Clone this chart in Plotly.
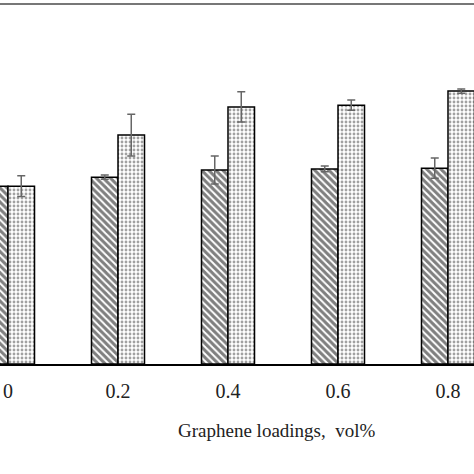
import plotly.graph_objects as go

loadings = [0, 0.2, 0.4, 0.6, 0.8]
tick_labels = ["0", "0.2", "0.4", "0.6", "0.8"]

# two series, arbitrary units (y axis not shown in the picture)
hatched = [49.4, 51.9, 53.9, 54.2, 54.4]
hatched_err = [2.0, 0.6, 3.9, 0.8, 2.8]
dotted = [49.4, 63.6, 71.4, 71.9, 75.8]
dotted_err = [2.9, 5.8, 4.2, 1.4, 0.6]

fig = go.Figure()

fig.add_trace(go.Bar(x=loadings, y=hatched,
                     error_y=dict(type="data", array=hatched_err, color="#666666",
                                  thickness=1.5, width=4),
                     marker=dict(color="white",
                                 line=dict(color="black", width=1.5),
                                 pattern=dict(shape="\\", fgcolor="black",
                                              bgcolor="white", size=5, solidity=0.6)),
                     showlegend=False))

fig.add_trace(go.Bar(x=loadings, y=dotted,
                     error_y=dict(type="data", array=dotted_err, color="#666666",
                                  thickness=1.5, width=4),
                     marker=dict(color="white",
                                 line=dict(color="black", width=1.5),
                                 pattern=dict(shape=".", fgcolor="#444444",
                                              bgcolor="white", size=4, solidity=0.4)),
                     showlegend=False))

# 0.2 units = 110 px, first group centred at 8 px
x0 = -8 / 550
x1 = x0 + 474 / 550

fig.update_layout(width=474, height=474,
                  margin=dict(l=0, r=0, t=4, b=110),
                  paper_bgcolor="white", plot_bgcolor="white",
                  barmode="group", bargap=0.518, bargroupgap=0,
                  font=dict(family="Liberation Serif", color="black"))

fig.update_xaxes(range=[x0, x1], tickvals=loadings, ticktext=tick_labels,
                 showline=True, linecolor="black", linewidth=1.5,
                 showgrid=False, zeroline=False, ticks="",
                 ticklabelstandoff=8,
                 tickfont=dict(size=20, family="Liberation Serif", color="#222222"))
fig.update_yaxes(range=[0, 100], visible=False)

# top frame line
fig.add_shape(type="line", xref="paper", yref="paper", x0=0, x1=1, y0=1, y1=1,
              line=dict(color="#777777", width=2))

fig.add_annotation(text="Graphene loadings,  vol%", xref="paper", yref="paper",
                   x=277 / 474, y=-79 / 360, showarrow=False,
                   font=dict(size=19, family="Liberation Serif", color="#222222"))

fig.write_html("out.html", config={"displayModeBar": False},
               post_script="document.body.style.margin='0';")
